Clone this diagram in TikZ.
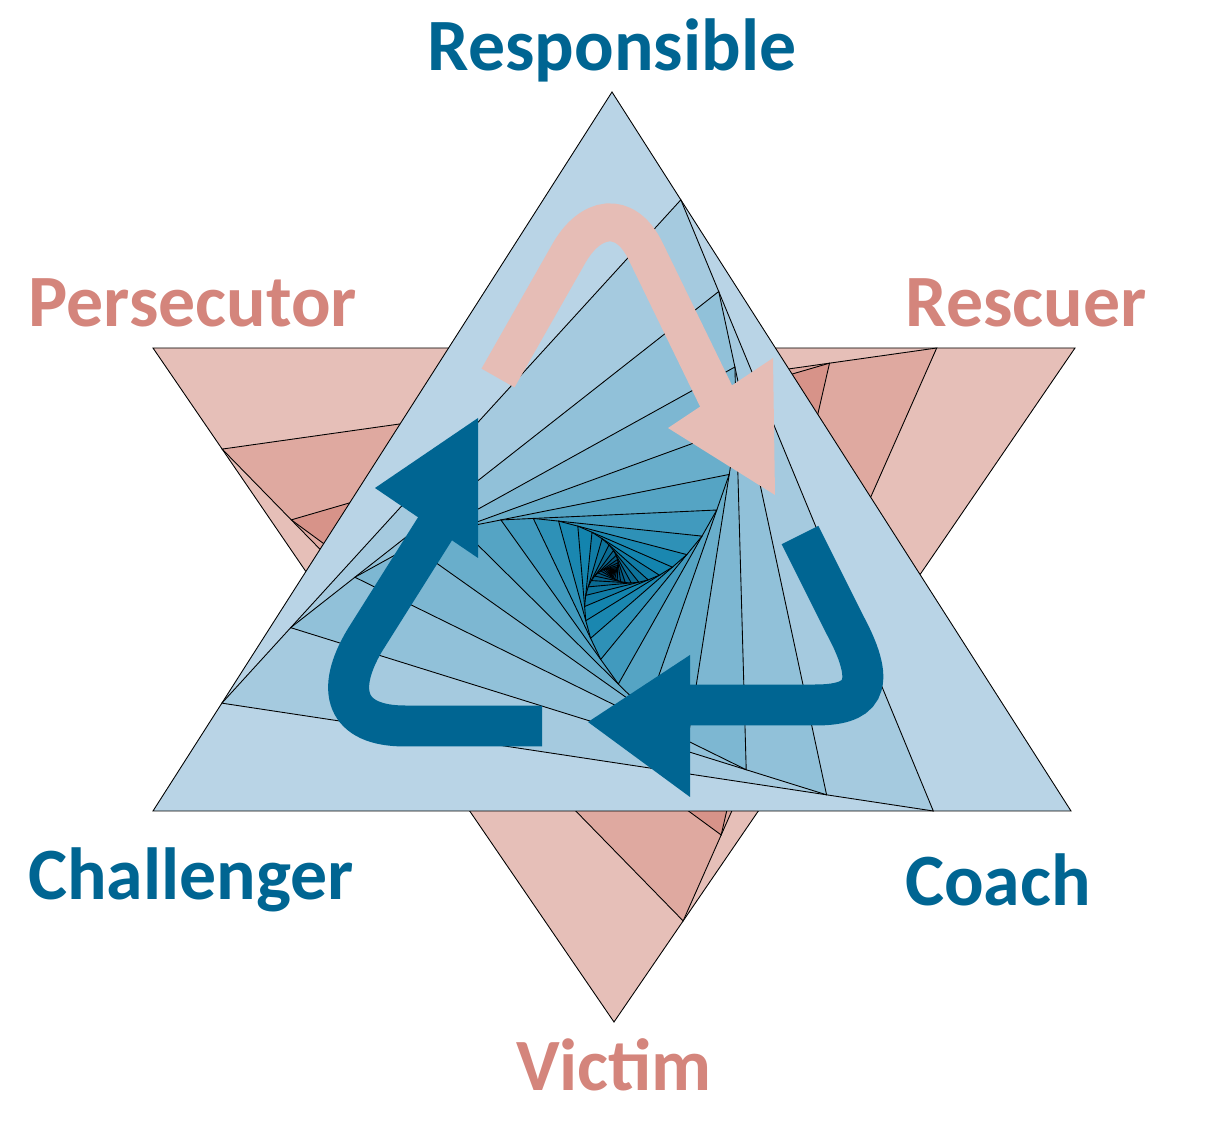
\documentclass[tikz,border=0pt]{standalone}
\usepackage{fontspec}
\setmainfont{Carlito}
\usetikzlibrary{calc}
\definecolor{lb}{HTML}{B9D4E6}
\definecolor{db}{HTML}{1384AE}
\definecolor{dk}{HTML}{004A70}
\definecolor{lr}{HTML}{E6BFB8}
\definecolor{dr}{HTML}{C8685A}
\definecolor{tb}{HTML}{006592}
\definecolor{tr}{HTML}{D4857C}
\definecolor{pa}{HTML}{E6BDB6}
\definecolor{ba}{HTML}{006592}
\tikzset{lbl/.style={font=\fontsize{42}{42}\selectfont\bfseries},
 tri/.style={draw=black,line width=0.5pt}}
\begin{document}
\begin{tikzpicture}[x=0.02cm,y=-0.02cm]
\useasboundingbox (0,0) rectangle (1218,1121);
% red whirl
\coordinate (p0) at (1075,348); \coordinate (q0) at (153,348); \coordinate (r0) at (614,1022);
\foreach \i in {0,...,29}{
  \pgfmathtruncatemacro\n{\i+1}
  \pgfmathtruncatemacro\pc{min(100,\i*25)}
  \colorlet{curc}{dr!\pc!lr}
  \filldraw[fill=curc,tri] (p\i)--(q\i)--(r\i)--cycle;
  \coordinate (p\n) at ($(p\i)!0.15!(q\i)$);
  \coordinate (q\n) at ($(q\i)!0.15!(r\i)$);
  \coordinate (r\n) at ($(r\i)!0.15!(p\i)$);
}
% blue whirl
\coordinate (a0) at (612,92); \coordinate (b0) at (1071,811); \coordinate (c0) at (153,811);
\foreach \i in {0,...,44}{
  \pgfmathtruncatemacro\n{\i+1}
  \ifnum\i<9
    \pgfmathtruncatemacro\pc{\i*12}
    \colorlet{curc}{db!\pc!lb}
  \else
    \pgfmathtruncatemacro\pc{min(100,(\i-9)*15)}
    \colorlet{curc}{dk!\pc!db}
  \fi
  \filldraw[fill=curc,tri] (a\i)--(b\i)--(c\i)--cycle;
  \coordinate (a\n) at ($(a\i)!0.15!(b\i)$);
  \coordinate (b\n) at ($(b\i)!0.15!(c\i)$);
  \coordinate (c\n) at ($(c\i)!0.15!(a\i)$);
}
% pink arrow
\draw[pa,line width=0.76cm] (498,378) -- (568,255) .. controls (590,215) and (625,210) .. (645,250) -- (718,400);
\fill[pa] (668,428) -- (773,358) -- (775,495) -- cycle;
% blue arrow right
\draw[ba,line width=0.82cm] (800,535) -- (845,625) .. controls (880,690) and (860,705) .. (815,705) -- (680,705);
\fill[ba] (690,655) -- (588,722) -- (690,797) -- cycle;
% blue arrow left
\draw[ba,line width=0.82cm] (542,726) -- (405,726) .. controls (345,726) and (335,690) .. (365,640) -- (450,505);
\fill[ba] (478,418) -- (375,488) -- (478,558) -- cycle;
% labels
\node[lbl,text=tb] (resp) at (612,50) {Responsible};
\node[lbl,text=tr] (pers) at (193,303) {Persecutor};
\node[lbl,text=tr] (resc) at (1026,303) {Rescuer};
\node[lbl,text=tb] (chal) at (191,880) {Challenger};
\node[lbl,text=tb] (coach) at (998,880) {Coach};
\node[lbl,text=tr] (vict) at (614,1065) {Victim};
\end{tikzpicture}
\end{document}
